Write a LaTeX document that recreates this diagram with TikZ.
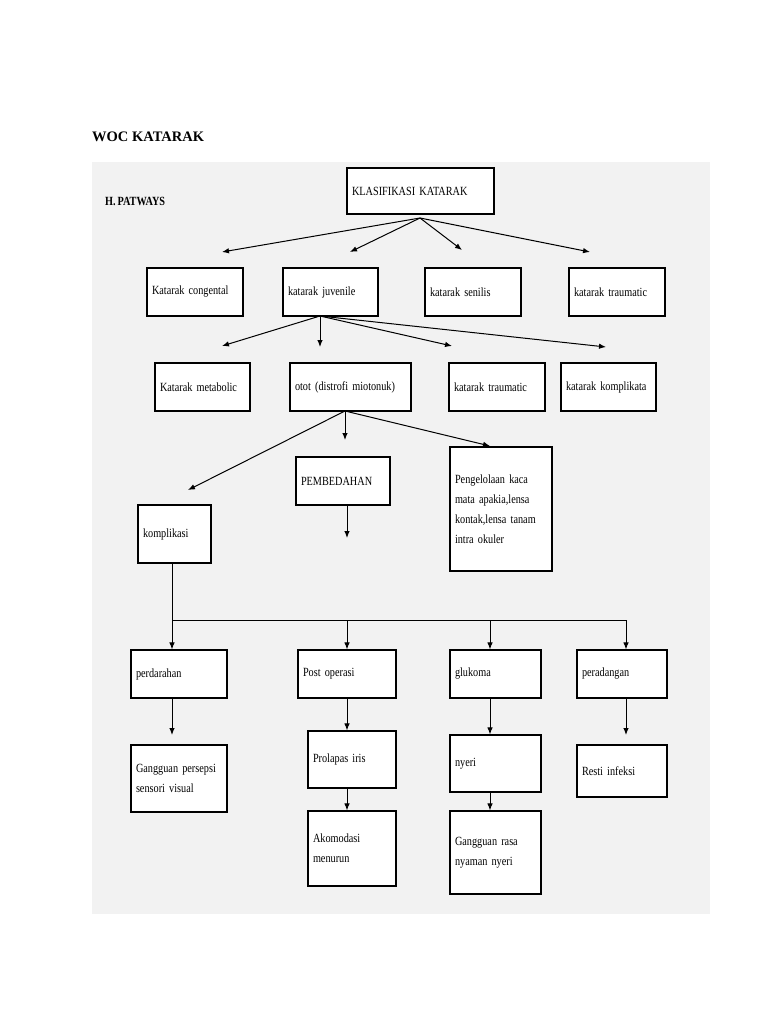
\documentclass[tikz,border=0pt]{standalone}
\usepackage{fontspec}
\setmainfont{Liberation Serif}[FakeStretch=0.82,WordSpace=0.7]
\newfontfamily\titlefont{Liberation Serif}
\usetikzlibrary{arrows.meta}
\begin{document}
\begin{tikzpicture}[x=1pt,y=-1pt,
  bx/.style={draw,line width=1.1pt,fill=white,rectangle,inner sep=0pt,align=left,
    font=\fontsize{12.5}{20}\selectfont},
  ar/.style={-{Latex[length=7pt,width=5.5pt]},line width=1pt},
  ln/.style={line width=1pt}]
\useasboundingbox (0,0) rectangle (768,1024);
\fill[white] (0,0) rectangle (768,1024);
\fill[black!5] (92,162) rectangle (710,914);
\node[anchor=west,inner sep=0pt,font=\titlefont\bfseries\fontsize{14.5}{16}\selectfont] (title) at (92,137) {WOC KATARAK};
\node[anchor=west,inner sep=0pt,font=\bfseries\fontsize{12.5}{14}\selectfont] (hp) at (105,201) {H. PATWAYS};
\newcommand\bx[6]{\node[bx,minimum width={#4-#2},minimum height={#5-#3},text width={#4-#2-10}] (#1) at ({(#2+#4)/2},{(#3+#5)/2-3}) {#6};}
\bx{klas}{347}{171}{494}{217}{KLASIFIKASI KATARAK}
\bx{kcon}{147}{271}{243}{319}{Katarak congental}
\bx{kjuv}{283}{271}{378}{319}{katarak juvenile}
\bx{ksen}{425}{271}{521}{319}{katarak senilis}
\bx{ktra}{569}{271}{665}{319}{katarak traumatic}
\bx{kmet}{155}{366}{250}{414}{Katarak metabolic}
\bx{otot}{290}{366}{411}{414}{otot (distrofi miotonuk)}
\bx{ktrb}{449}{366}{545}{414}{katarak traumatic}
\bx{kkom}{561}{366}{656}{414}{katarak komplikata}
\bx{pemb}{296}{460}{390}{508}{PEMBEDAHAN}
\bx{peng}{450}{450}{552}{574}{Pengelolaan kaca\\ mata apakia,lensa\\ kontak,lensa tanam\\ intra okuler}
\bx{kpl}{138}{508}{211}{566}{komplikasi}
\bx{perd}{131}{653}{227}{701}{perdarahan}
\bx{post}{298}{653}{396}{701}{Post operasi}
\bx{gluk}{450}{653}{541}{701}{glukoma}
\bx{pera}{577}{653}{667}{701}{peradangan}
\bx{gper}{131}{748}{227}{815}{Gangguan persepsi\\ sensori visual}
\bx{prol}{308}{734}{396}{791}{Prolapas iris}
\bx{nyer}{450}{738}{541}{795}{nyeri}
\bx{rest}{577}{748}{667}{800}{Resti infeksi}
\bx{akom}{308}{814}{396}{889}{Akomodasi\\ menurun}
\bx{grasa}{450}{814}{541}{897}{Gangguan rasa\\ nyaman nyeri}
% top fan
\coordinate (k0) at (420,218);
\foreach \x/\y in {222/252,350/252,462/250,590/252}{\draw[ar] (k0) -- (\x,\y);}
\coordinate (j0) at (320,316);
\foreach \x/\y in {222/346,320/347,452/346,606/347}{\draw[ar] (j0) -- (\x,\y);}
\coordinate (o0) at (345,411);
\foreach \x/\y in {188/490,345/440,490/446}{\draw[ar] (o0) -- (\x,\y);}
\coordinate (pe) at (347,538);
\draw[ar] (pemb.south -| pe) -- (pe);
% bus
\coordinate (b1) at (172,620); \coordinate (b4) at (626,620);
\draw[ln] (kpl.south -| b1) -- (b1) -- (b4);
\draw[ar] (b1) -- (perd.north -| b1);
\draw[ar] (347,620) -- (post.north -| 347,0);
\draw[ar] (490,620) -- (gluk.north -| 490,0);
\draw[ar] (b4) -- (pera.north -| b4);
\coordinate (e1) at (172,735); \coordinate (e4) at (626,735);
\draw[ar] (perd.south -| e1) -- (e1);
\draw[ar] (post.south -| 347,0) -- (prol.north -| 347,0);
\draw[ar] (gluk.south -| 490,0) -- (nyer.north -| 490,0);
\draw[ar] (pera.south -| e4) -- (e4);
\draw[ar] (prol.south -| 347,0) -- (akom.north -| 347,0);
\draw[ar] (nyer.south -| 490,0) -- (grasa.north -| 490,0);
\end{tikzpicture}
\end{document}
